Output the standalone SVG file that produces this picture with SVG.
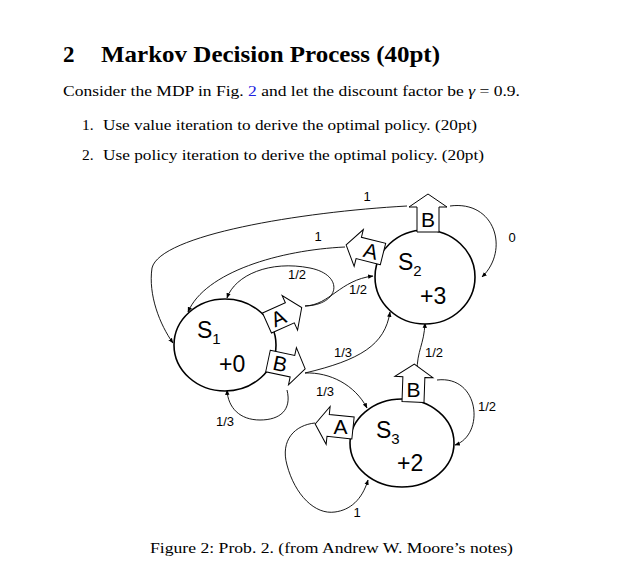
<svg xmlns="http://www.w3.org/2000/svg" width="638" height="584" viewBox="0 0 638 584">
<style>
.t{font-family:"Liberation Serif",serif;font-size:15.5px;fill:#000}
.s{font-family:"Liberation Sans",Arial,sans-serif;fill:#000}
.c{fill:none;stroke:#000;stroke-width:0.9}
.n{fill:#fff;stroke:#000;stroke-width:1.6}
.ar{fill:#fff;stroke:#000;stroke-width:1}
</style>
<defs>
<marker id="m" viewBox="0 0 10 10" refX="9" refY="5" markerWidth="6" markerHeight="6" orient="auto"><path d="M0,1 L10,5 L0,9 z" fill="#000"/></marker>
<polygon id="blk" points="0,-11 25,-11 25,-19 38,0 25,19 25,11 0,11"/>
</defs>
<rect width="638" height="584" fill="#fff"/>
<text x="63" y="62" style="font-family:'Liberation Serif',serif;font-size:23px;font-weight:bold">2</text>
<text x="101" y="62" style="font-family:'Liberation Serif',serif;font-size:23px;font-weight:bold" textLength="339" lengthAdjust="spacingAndGlyphs">Markov Decision Process (40pt)</text>
<text x="63" y="96" class="t" textLength="457" lengthAdjust="spacingAndGlyphs">Consider the MDP in Fig. <tspan fill="#2020e0">2</tspan> and let the discount factor be <tspan font-style="italic">γ</tspan> = 0.9.</text>
<text x="82" y="130" class="t">1.</text><text x="103" y="130" class="t" textLength="374" lengthAdjust="spacingAndGlyphs">Use value iteration to derive the optimal policy. (20pt)</text>
<text x="82" y="160" class="t">2.</text><text x="103" y="160" class="t" textLength="381" lengthAdjust="spacingAndGlyphs">Use policy iteration to derive the optimal policy. (20pt)</text>
<text x="150" y="553" class="t" textLength="363" lengthAdjust="spacingAndGlyphs">Figure 2: Prob. 2. (from Andrew W. Moore’s notes)</text>
<g id="connectors">
<path class="c" marker-end="url(#m)" d="M407,206 C300,212 160,235 152,268 C148,295 160,325 173,343"/>
<path class="c" marker-end="url(#m)" d="M450,206 C495,200 510,250 482,277"/>
<path class="c" marker-end="url(#m)" d="M345,247 C280,250 205,272 188,312"/>
<path class="c" marker-end="url(#m)" d="M305,306 C340,305 345,275 310,268 C270,260 235,275 227,298"/>
<path class="c" marker-end="url(#m)" d="M305,306 C330,305 340,280 373,276"/>
<path class="c" marker-end="url(#m)" d="M305,373 C360,360 385,345 390,312"/>
<path class="c" marker-end="url(#m)" d="M305,373 C330,372 355,385 367,408"/>
<path class="c" marker-end="url(#m)" d="M287,390 C292,410 280,420 260,420 C240,420 228,408 227,390"/>
<path class="c" marker-end="url(#m)" d="M417,372 C417,350 424,345 425,323"/>
<path class="c" marker-end="url(#m)" d="M437,380 C480,375 485,435 455,445"/>
<path class="c" marker-end="url(#m)" d="M315,423 C295,425 280,440 287,465 C295,495 315,515 335,512 C350,510 362,500 368,480"/>
<g class="s" font-size="13">
<text x="367" y="201" text-anchor="middle">1</text>
<text x="512" y="242" text-anchor="middle">0</text>
<text x="318" y="241" text-anchor="middle">1</text>
<text x="297" y="279" text-anchor="middle">1/2</text>
<text x="358" y="294" text-anchor="middle">1/2</text>
<text x="343" y="357" text-anchor="middle">1/3</text>
<text x="325" y="396" text-anchor="middle">1/3</text>
<text x="225" y="426" text-anchor="middle">1/3</text>
<text x="434" y="357" text-anchor="middle">1/2</text>
<text x="487" y="411" text-anchor="middle">1/2</text>
<text x="357" y="517" text-anchor="middle">1</text>
</g>
</g>
<g id="S1"><ellipse class="n" cx="225" cy="345" rx="51" ry="46"/>
<text class="s" x="197" y="338" font-size="23">S<tspan font-size="15" dy="6">1</tspan></text>
<text class="s" x="219" y="372" font-size="23">+0</text></g>
<g id="S2"><ellipse class="n" cx="425" cy="277" rx="50" ry="47"/>
<text class="s" x="398" y="270" font-size="23">S<tspan font-size="15" dy="6">2</tspan></text>
<text class="s" x="420" y="304" font-size="23">+3</text></g>
<g id="S3"><ellipse class="n" cx="402" cy="443" rx="52" ry="44"/>
<text class="s" x="376" y="438" font-size="23">S<tspan font-size="15" dy="6">3</tspan></text>
<text class="s" x="397" y="471" font-size="23">+2</text></g>
<g id="A1" transform="translate(267,323) rotate(-24)"><use href="#blk" class="ar"/><text class="s" x="12.5" y="7.5" font-size="21" text-anchor="middle">A</text></g>
<g id="B1" transform="translate(268,361) rotate(12)"><use href="#blk" class="ar"/><text class="s" x="12.5" y="7.5" font-size="21" text-anchor="middle">B</text></g>
<g id="A2" transform="translate(383,254) rotate(194)"><use href="#blk" class="ar"/><text class="s" x="12.5" y="7.5" font-size="21" text-anchor="middle" transform="rotate(180 12.5 0)">A</text></g>
<g id="B2" transform="translate(428,232) rotate(-90)"><use href="#blk" class="ar"/><text class="s" x="12.5" y="7.5" font-size="21" text-anchor="middle" transform="rotate(90 12.5 0)">B</text></g>
<g id="B3" transform="translate(413,402) rotate(-88)"><use href="#blk" class="ar"/><text class="s" x="12.5" y="7.5" font-size="21" text-anchor="middle" transform="rotate(88 12.5 0)">B</text></g>
<g id="A3" transform="translate(353,428) rotate(186)"><use href="#blk" class="ar"/><text class="s" x="12.5" y="7.5" font-size="21" text-anchor="middle" transform="rotate(174 12.5 0)">A</text></g>
</svg>
